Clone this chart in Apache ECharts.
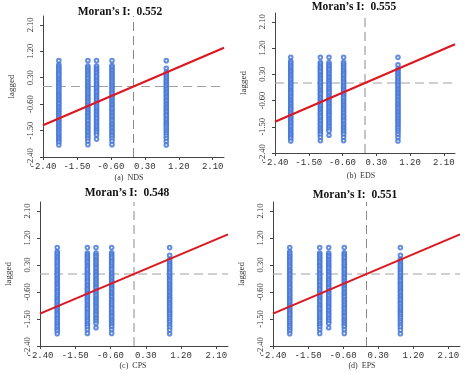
<!DOCTYPE html>
<html>
<head>
<meta charset="utf-8">
<script src="https://cdn.jsdelivr.net/npm/echarts@6/dist/echarts.min.js"></script>
<style>
html,body{margin:0;padding:0;background:#fff;}
#chart{width:474px;height:374px;}
</style>
</head>
<body>
<div id="chart"></div>
<script>
// ---- data ----
const panelTitles = ['Moran’s I:  0.552', 'Moran’s I:  0.555', 'Moran’s I:  0.548', 'Moran’s I:  0.551'];
const panelCaptions = ['(a)  NDS', '(b)  EDS', '(c)  CPS', '(d)  EPS'];
const tickValues = [-2.4, -1.5, -0.6, 0.3, 1.2, 2.1];
const axisMin = -2.4;
const axisMax = 2.4;
const yAxisName = 'lagged';

// x positions of the five point columns in each panel
const colX_NDS = [-1.98, -1.21, -0.98, -0.57, 0.87];
const colX_EDS = [-1.98, -1.19, -0.96, -0.57, 0.88];
const colX_CPS = [-1.96, -1.19, -0.97, -0.57, 0.91];
const colX_EPS = [-1.97, -1.20, -0.97, -0.57, 0.87];

// lagged values in each column (columns look the same in all panels)
const colY1 = [0.88, 0.74, 0.68, 0.61, 0.55, 0.48, 0.42, 0.36, 0.29, 0.23, 0.16, 0.10, 0.03, -0.03, -0.10, -0.16, -0.23, -0.29, -0.35, -0.42, -0.48, -0.55, -0.61, -0.68, -0.74, -0.81, -0.87, -0.93, -1.00, -1.06, -1.13, -1.19, -1.26, -1.32, -1.38, -1.45, -1.51, -1.58, -1.64, -1.71, -1.77, -1.84, -1.90, -1.99];
const colY2 = [0.88, 0.70, 0.64, 0.57, 0.51, 0.44, 0.38, 0.31, 0.25, 0.18, 0.12, 0.05, -0.01, -0.08, -0.14, -0.21, -0.27, -0.34, -0.40, -0.47, -0.53, -0.60, -0.66, -0.73, -0.79, -0.86, -0.92, -0.99, -1.05, -1.12, -1.18, -1.25, -1.31, -1.38, -1.44, -1.51, -1.57, -1.64, -1.70, -1.77, -1.86, -1.98];
const colY3 = [0.88, 0.70, 0.63, 0.57, 0.50, 0.44, 0.37, 0.31, 0.24, 0.18, 0.11, 0.05, -0.02, -0.08, -0.15, -0.21, -0.28, -0.34, -0.41, -0.47, -0.54, -0.60, -0.67, -0.73, -0.80, -0.86, -0.93, -0.99, -1.06, -1.12, -1.19, -1.25, -1.32, -1.38, -1.45, -1.51, -1.58, -1.65, -1.79];
const colY4 = [0.88, 0.71, 0.65, 0.58, 0.52, 0.45, 0.39, 0.32, 0.26, 0.19, 0.13, 0.06, 0.00, -0.07, -0.13, -0.20, -0.26, -0.33, -0.39, -0.46, -0.52, -0.59, -0.65, -0.72, -0.78, -0.85, -0.91, -0.98, -1.04, -1.11, -1.17, -1.24, -1.30, -1.37, -1.43, -1.50, -1.56, -1.63, -1.69, -1.76, -1.86, -1.98];
const colY5 = [0.88, 0.62, 0.48, 0.42, 0.35, 0.29, 0.22, 0.16, 0.09, 0.03, -0.04, -0.10, -0.17, -0.23, -0.30, -0.36, -0.43, -0.49, -0.56, -0.62, -0.69, -0.75, -0.82, -0.88, -0.95, -1.01, -1.08, -1.14, -1.21, -1.27, -1.33, -1.40, -1.47, -1.54, -1.61, -1.69, -1.77, -1.87, -1.99];

// fitted line: lagged value at x = -2.4 and x = 2.4
const fitNDS = [-1.32, 1.32];
const fitEDS = [-1.33, 1.33];
const fitCPS = [-1.32, 1.32];
const fitEPS = [-1.32, 1.32];

// ---- layout ----
const colXs = [colX_NDS, colX_EDS, colX_CPS, colX_EPS];
const colYs = [colY1, colY2, colY3, colY4, colY5];
const fits = [fitNDS, fitEDS, fitCPS, fitEPS];
const grids = [
  {left: 43, top: 16, width: 181, height: 141},
  {left: 275, top: 13, width: 180, height: 140},
  {left: 40, top: 202, width: 188, height: 144},
  {left: 273, top: 202, width: 187, height: 144}
];
const titlePos = [[120, 12], [354, 7], [127, 193], [355, 195]];
const captionPos = [[129, 178], [361, 176], [133, 366], [362, 366]];

const chart = echarts.init(document.getElementById('chart'), null, {renderer: 'canvas'});
const xLabelFont = {fontFamily: 'Liberation Mono', fontSize: 9, color: '#333'};
const yLabelFont = {fontFamily: 'Liberation Serif', fontSize: 8.5, color: '#333'};
const xAxes = [], yAxes = [], series = [], graphics = [];

grids.forEach((g, i) => {
  const axisCommon = {
    gridIndex: i, type: 'value', min: axisMin, max: axisMax,
    splitLine: {show: false},
    axisLine: {show: true, onZero: false, lineStyle: {color: '#444', width: 1}},
    axisTick: {show: true, inside: false, length: 3, customValues: tickValues, lineStyle: {color: '#444'}},
  };
  xAxes.push(Object.assign({}, axisCommon, {
    axisLabel: Object.assign({customValues: tickValues, margin: 5, formatter: v => v.toFixed(2)}, xLabelFont)
  }));
  yAxes.push(Object.assign({}, axisCommon, {
    name: yAxisName, nameLocation: 'middle', nameGap: 27, nameRotate: 90,
    nameTextStyle: {fontFamily: 'Liberation Serif', fontSize: 9, color: '#333'},
    axisLabel: Object.assign({customValues: tickValues, margin: 8, rotate: 90, formatter: v => v.toFixed(2)}, yLabelFont)
  }));
  // dashed reference lines
  series.push({
    type: 'line', xAxisIndex: i, yAxisIndex: i, symbol: 'none', silent: true,
    data: [[0, axisMin], [0, axisMax]],
    lineStyle: {color: '#8a8a8a', width: 1, type: [9, 5]}, z: 1
  });
  series.push({
    type: 'line', xAxisIndex: i, yAxisIndex: i, symbol: 'none', silent: true,
    data: [[axisMin, 0], [axisMax, 0]],
    lineStyle: {color: '#a0a0a0', width: 1, type: [9, 5]}, z: 1
  });
  const pts = [];
  colXs[i].forEach((x, c) => { colYs[c].forEach(y => pts.push([x, y])); });
  series.push({
    type: 'scatter', xAxisIndex: i, yAxisIndex: i, data: pts,
    symbol: 'emptyCircle', symbolSize: 3.6,
    itemStyle: {color: '#3c70e0', borderWidth: 0.8}, z: 2
  });
  series.push({
    type: 'line', xAxisIndex: i, yAxisIndex: i, symbol: 'none',
    data: [[axisMin, fits[i][0]], [axisMax, fits[i][1]]],
    lineStyle: {color: '#e3141c', width: 2}, z: 3
  });
  graphics.push({
    type: 'text', x: titlePos[i][0], y: titlePos[i][1],
    style: {text: panelTitles[i], fontFamily: 'Liberation Serif', fontWeight: 'bold', fontSize: 11.5,
            fill: '#111', align: 'center', verticalAlign: 'middle'}
  });
  graphics.push({
    type: 'text', x: captionPos[i][0], y: captionPos[i][1],
    style: {text: panelCaptions[i], fontFamily: 'Liberation Serif', fontSize: 8,
            fill: '#333', align: 'center', verticalAlign: 'middle'}
  });
});

chart.setOption({
  animation: false,
  backgroundColor: '#fff',
  grid: grids,
  xAxis: xAxes,
  yAxis: yAxes,
  series: series,
  graphic: graphics
});
</script>
</body>
</html>
